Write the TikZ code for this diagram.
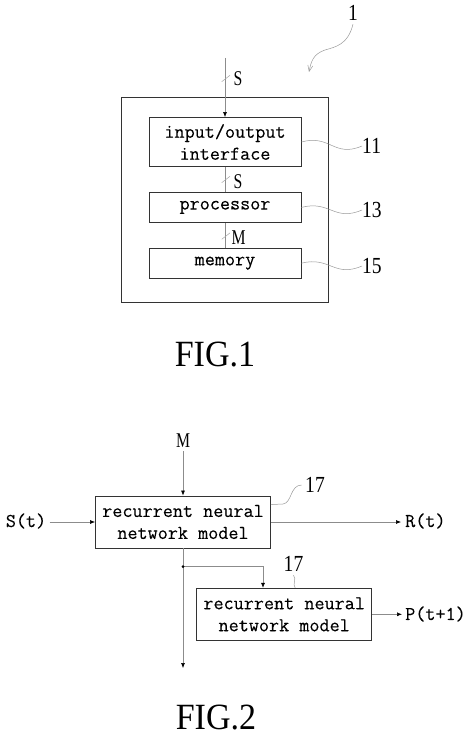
\documentclass[tikz,border=0pt]{standalone}
\usepackage{fontspec}
\setmonofont[FakeBold=0.2]{Latin Modern Mono}
\newfontfamily\lblfont{Liberation Serif}
\usetikzlibrary{arrows.meta, positioning}

\newcommand{\boxfont}{\ttfamily\fontsize{19.6}{22}\selectfont}
\newcommand{\refnum}[1]{{\lblfont\fontsize{23}{23}\selectfont\scalebox{0.85}[1]{#1}}}
\newcommand{\sig}[1]{{\lblfont\fontsize{21}{21}\selectfont\scalebox{0.75}[1]{#1}}}
\newcommand{\figlbl}[1]{{\lblfont\fontsize{37}{37}\selectfont\scalebox{0.92}[1]{#1}}}

\begin{document}
\begin{tikzpicture}[x=1pt,y=-1pt,
	blk/.style={draw=black!80,line width=0.9pt,minimum width=152pt,inner sep=0pt,align=center,font=\boxfont},
	rnn/.style={blk,minimum width=175pt,minimum height=52pt},
	wire/.style={draw=black!45,line width=0.6pt},
	sigarrow/.style={-{Latex[length=5pt,width=4pt,color=black]}},
	leader/.style={draw=black!40,line width=0.5pt},
	bustick/.style={draw=black!35,line width=0.5pt}]
			\useasboundingbox (0,0) rectangle (474,738);
			% FIG.1
			\node[draw=black!80,line width=0.9pt,minimum width=206.5pt,minimum height=205pt] (sys) at (224.8,200.2) {};
			\node[blk,minimum height=49pt] (io) at (225,142) {input/output\\interface};
			\node[blk,minimum height=30.7pt] (proc) at (225,207.4) {processor};
			\node[blk,minimum height=30.3pt] (mem) at (225,263.2) {memory};
			\coordinate (sin) at (225,58);
			\draw[wire,sigarrow] (sin) -- (io.north);
			\draw[wire] (io.south) -- (proc.north);
			\draw[wire] (proc.south) -- (mem.north);
			\draw[bustick] (221.7,81.7) -- (230,75.3);
			\draw[bustick] (221.7,182.7) -- (230,176.3);
			\draw[bustick] (221.7,239.3) -- (230,232.9);
			\node (s1) at (238,79) {\sig{S}};
			\node (s2) at (238,181.5) {\sig{S}};
			\node (m1) at (238.5,237.5) {\sig{M}};
			\node (n1) at (353,13) {\refnum{1}};
			\coordinate (sysref) at (309,72);
			\draw[leader,-{Straight Barb[length=6pt,width=5pt]}] (n1.south) .. controls (348,45) and (335,47) .. (325,50) .. controls (313,54) and (311,62) .. (sysref);
			\node[anchor=west,inner sep=0pt] (n11) at (362,146) {\refnum{11}};
			\node[anchor=west,inner sep=0pt] (n13) at (362,210) {\refnum{13}};
			\node[anchor=west,inner sep=0pt] (n15) at (362,266) {\refnum{15}};
			\draw[leader] (io.east) .. controls (330,134) and (334,158) .. (n11.west);
			\draw[leader] (proc.east) .. controls (330,200) and (334,222) .. (n13.west);
			\draw[leader] (mem.east) .. controls (330,256) and (334,278) .. (n15.west);
			\node (fig1) at (215,355) {\figlbl{FIG.1}};
			% FIG.2
			\node[rnn] (rnn1) at (183,522) {recurrent neural\\network model};
			\node[rnn] (rnn2) at (284.2,614.3) {recurrent neural\\network model};
			\node (m2) at (183,441) {\sig{M}};
			\node (st) at (26,521) {\boxfont S(t)};
			\node[anchor=west,inner sep=0pt] (rt) at (405,521) {\boxfont R(t)};
			\node[anchor=west,inner sep=0pt] (pt) at (405,614) {\boxfont P(t+1)};
			\draw[wire,sigarrow] (m2.south) -- (rnn1.north);
			\draw[wire,sigarrow] (st.east |- rnn1.west) -- (rnn1.west);
			\draw[wire,sigarrow,shorten >=4pt] (rnn1.east) -- (rnn1.east -| rt.west);
			\coordinate (split) at (183,566.7);
			\coordinate (feed) at (263,566.7);
			\coordinate (outd) at (183,668);
			\draw[wire] (rnn1.south) -- (split);
			\draw[wire,sigarrow] (split) -- (outd);
			\draw[wire,sigarrow] (split) -- (feed) -- (feed |- rnn2.north);
			\fill (split) circle (1.5pt);
			\draw[wire,sigarrow,shorten >=3pt] (rnn2.east) -- (rnn2.east -| pt.west);
			\node (n17a) at (315,485) {\refnum{17}};
			\node (n17b) at (293.5,564) {\refnum{17}};
			\draw[leader] ([yshift=-9pt]rnn1.north east) -- (283,504) .. controls (292,503) and (290,485) .. (n17a.west);
			\draw[leader] ([xshift=11pt]rnn2.north) .. controls (292,584) and (297,580) .. (n17b.south);
			\node (fig2) at (216,718) {\figlbl{FIG.2}};
\end{tikzpicture}
\end{document}
